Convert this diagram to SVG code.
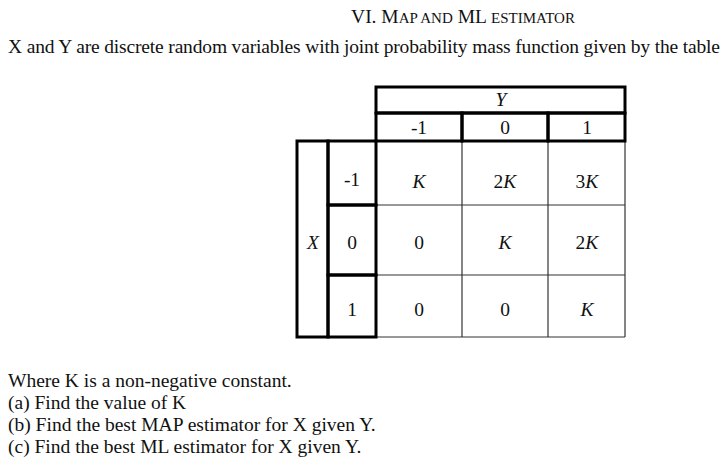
<svg xmlns="http://www.w3.org/2000/svg" width="728" height="470" viewBox="0 0 728 470">
<style>
text{font-family:"Liberation Serif","Times New Roman",serif;fill:#111;font-size:19.5px}
.c{text-anchor:middle}
.i{font-style:italic}
.thick{fill:none;stroke:#000;stroke-width:3}
.thin{fill:none;stroke:#333;stroke-width:1.2}
</style>
<rect width="728" height="470" fill="#fff"/>
<text x="463" y="23" class="c" font-size="19">VI. M<tspan font-size="15">AP AND</tspan> ML <tspan font-size="15">ESTIMATOR</tspan></text>
<text x="8" y="53" textLength="712" lengthAdjust="spacing">X and Y are discrete random variables with joint probability mass function given by the table</text>
<g id="grid">
<line class="thin" x1="462" y1="141" x2="462" y2="337"/>
<line class="thin" x1="548" y1="141" x2="548" y2="337"/>
<line class="thin" x1="376" y1="205" x2="625" y2="205"/>
<line class="thin" x1="376" y1="275" x2="625" y2="275"/>
<line class="thin" x1="376" y1="337" x2="625" y2="337"/>
<line class="thin" x1="625" y1="141" x2="625" y2="337"/>
</g>
<g id="headers">
<rect class="thick" x="376" y="87" width="249" height="26"/>
<rect class="thick" x="376" y="113" width="86" height="28"/>
<rect class="thick" x="462" y="113" width="86" height="28"/>
<rect class="thick" x="548" y="113" width="77" height="28"/>
<rect class="thick" x="297" y="141" width="31" height="196"/>
<rect class="thick" x="328" y="141" width="48" height="64"/>
<rect class="thick" x="328" y="205" width="48" height="70"/>
<rect class="thick" x="328" y="275" width="48" height="62"/>
</g>
<g id="labels">
<text x="501" y="106" class="c i">Y</text>
<text x="419" y="134" class="c">-1</text>
<text x="505" y="134" class="c">0</text>
<text x="587" y="134" class="c">1</text>
<text x="313" y="249" class="c i">X</text>
<text x="352" y="186" class="c">-1</text>
<text x="352" y="249" class="c">0</text>
<text x="352" y="316" class="c">1</text>
<text x="419" y="188" class="c i">K</text>
<text x="505" y="188" class="c">2<tspan class="i">K</tspan></text>
<text x="587" y="188" class="c">3<tspan class="i">K</tspan></text>
<text x="419" y="249" class="c">0</text>
<text x="505" y="249" class="c i">K</text>
<text x="587" y="249" class="c">2<tspan class="i">K</tspan></text>
<text x="419" y="316" class="c">0</text>
<text x="505" y="316" class="c">0</text>
<text x="587" y="316" class="c i">K</text>
</g>
<text x="8" y="387">Where K is a non-negative constant.</text>
<text x="8" y="409">(a) Find the value of K</text>
<text x="8" y="431">(b) Find the best MAP estimator for X given Y.</text>
<text x="8" y="453">(c) Find the best ML estimator for X given Y.</text>
</svg>
